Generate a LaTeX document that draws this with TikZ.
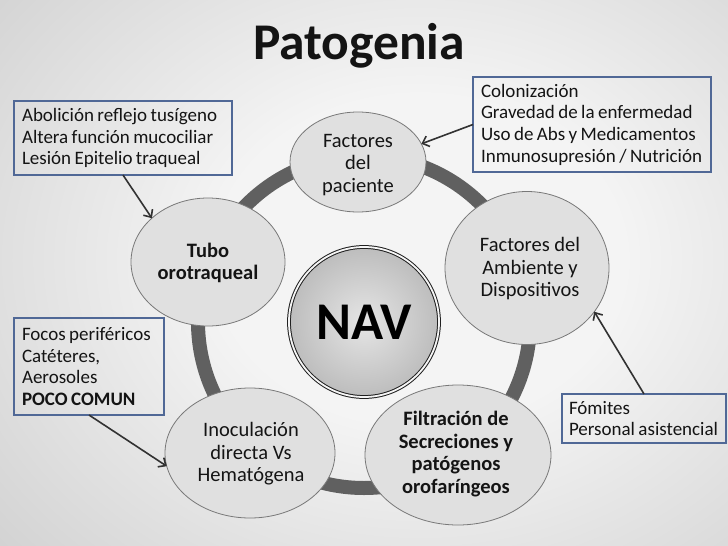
\documentclass[tikz,border=0pt]{standalone}
\usepackage{fontspec}
\setmainfont{Carlito}
\usetikzlibrary{shapes.geometric,arrows.meta}
\definecolor{boxblue}{RGB}{80,104,150}
\definecolor{ringgray}{RGB}{96,96,96}
\definecolor{ellfill}{RGB}{224,224,224}
\definecolor{ellline}{RGB}{120,120,120}
\definecolor{arrowc}{RGB}{50,50,50}
\definecolor{txt}{RGB}{20,20,20}
\definecolor{bgcA}{RGB}{244,244,244}
\definecolor{bgcB}{RGB}{205,205,205}
\definecolor{bgcC}{RGB}{165,165,165}
\definecolor{bgcD}{RGB}{135,135,135}
\pgfdeclareradialshading{bgshade}{\pgfpoint{0bp}{0bp}}{color(0bp)=(bgcA); color(10bp)=(bgcA); color(30bp)=(bgcB); color(48bp)=(bgcC); color(71bp)=(bgcD)}
\DeclareRobustCommand\myboxfont{\fontsize{19}{21.7}\selectfont\spaceskip=0.18em\relax}
\tikzset{
  infobox/.style={draw=boxblue, line width=1.4pt, rectangle, anchor=north west,
    align=flush left, inner xsep=8pt, inner ysep=0pt, outer sep=0pt,
    font=\myboxfont, text=txt},
  ell/.style={ellipse, draw=ellline, line width=0.8pt, fill=ellfill, inner sep=0pt, outer sep=0pt},
  ctext/.style={align=center, text=txt, font=\fontsize{20.5}{22.5}\selectfont},
  btext/.style={align=center, text=txt, font=\fontsize{20.5}{22.7}\selectfont\bfseries},
  arr/.style={draw=arrowc, line width=1.6pt, -{Straight Barb[length=6pt,width=11pt]}},
}
\begin{document}
\begin{tikzpicture}[x=1pt,y=-1pt]
\useasboundingbox (0,0) rectangle (728,546);
\begin{scope}
  \clip (0,0) rectangle (728,546);
  \shade[shading=bgshade] (-90,-150) rectangle (930,670);
\end{scope}
% title
\node[font=\fontsize{51.5}{53}\selectfont\bfseries, text=txt, anchor=base] (title) at (359,59) {Patogenia};
% ring
\coordinate (c) at (364,322);
\draw[ringgray, line width=14pt] (c) circle[radius=166pt];
% satellites
\node[ell, minimum width=136pt, minimum height=100pt] (pac) at (358,162) {};
\node[ell, minimum width=154pt, minimum height=128pt] (tubo) at (208,262) {};
\node[ell, minimum width=164pt, minimum height=153pt] (amb) at (527,268) {};
\node[ell, minimum width=170pt, minimum height=130pt] (inoc) at (250,453) {};
\node[ell, minimum width=186pt, minimum height=140pt] (filt) at (458,455) {};
\node[ctext] (pact) at (358,165) {Factores\\del\\paciente};
\node[btext] (tubot) at (208,263) {Tubo\\orotraqueal};
\node[ctext] (ambt) at (530,269) {Factores del\\Ambiente y\\Dispositivos};
\node[ctext] (inoct) at (251,454) {Inoculación\\directa Vs\\Hematógena};
\node[btext] (filtt) at (456,454) {Filtración de\\Secreciones y\\patógenos\\orofaríngeos};
% centre
\node[circle, minimum size=150pt, inner sep=0pt, outer sep=0pt,
  inner color=gray!20, outer color=gray!52,
  draw=gray!25!black, double=gray!8, double distance=1.8pt, line width=1pt,
  font=\fontsize{53}{55}\selectfont\bfseries, text=black] (nav) at (c) {NAV};
% boxes
\node[infobox, text width=202pt, minimum height=74pt] (b1) at (14,101)
  {\mbox{Abolición reflejo tusígeno}\\\mbox{Altera función mucociliar}\\\mbox{Lesión Epitelio traqueal}};
\node[infobox, text width=222pt, minimum height=95pt] (b2) at (473,77)
  {Colonización\\\mbox{Gravedad de la enfermedad}\\\mbox{Uso de Abs y Medicamentos}\\\mbox{Inmunosupresión / Nutrición}};
\node[infobox, text width=134pt, minimum height=97pt] (b3) at (14,318)
  {\mbox{Focos periféricos}\\Catéteres,\\Aerosoles\\\mbox{\textbf{POCO COMUN}}};
\node[infobox, inner xsep=7pt, text width=150pt, minimum height=49pt] (b4) at (562,394)
  {Fómites\\\mbox{Personal asistencial}};
% arrows
\draw[arr] (b1.south) -- (tubo.142);
\draw[arr] (b2.west) -- (pac.16);
\draw[arr] (b3.south) -- (inoc.189);
\draw[arr] (b4.north) -- (amb.-33);
\end{tikzpicture}
\end{document}
